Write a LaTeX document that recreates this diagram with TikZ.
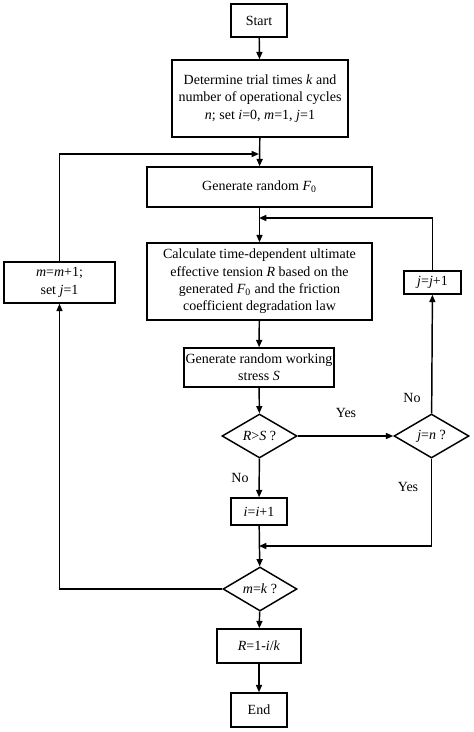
\documentclass[tikz,border=0pt]{standalone}
\usepackage{fontspec}
\setmainfont{Liberation Serif}
\usetikzlibrary{shapes.geometric,arrows.meta}

\begin{document}
\begin{tikzpicture}[x=0.75pt,y=-0.75pt,
  >={Triangle[length=5.5pt,width=4.5pt]},
  every node/.style={font=\fontsize{10.5}{13}\selectfont},
  box/.style={draw,line width=1.1pt,align=center,inner sep=1pt},
  test/.style={draw,diamond,line width=1.1pt,inner sep=0pt,minimum width=56.25pt,minimum height=33pt},
  flow/.style={line width=1.1pt,->},
  ]
\useasboundingbox (0,0) rectangle (474,732);

\node[box,minimum width=42pt,minimum height=24.75pt] (start) at (259,20.5) {Start};
\node[box,minimum width=132pt,minimum height=57.75pt] (init) at (260,98.5)
  {Determine trial times \textit{k} and\\ number of operational cycles\\ \textit{n}; set \textit{i}=0, \textit{m}=1, \textit{j}=1};
\node[box,minimum width=168.75pt,minimum height=30pt] (genF) at (259.5,187) {Generate random \textit{F}\textsubscript{0}};
\node[box,minimum width=168.75pt,minimum height=57.75pt] (calcR) at (259.5,281.5)
  {Calculate time-dependent ultimate\\ effective tension \textit{R} based on the\\ generated \textit{F}\textsubscript{0} and the friction\\ coefficient degradation law};
\node[box,minimum width=96pt,minimum height=29.25pt] (genS) at (259,367.5) {Generate random working\\ stress \textit{S}};
\node[test] (RS) at (259.5,436) {\textit{R}>\textit{S} ?};
\node[test] (jn) at (431.5,436) {\textit{j}=\textit{n} ?};
\node[box,minimum width=42.75pt,minimum height=17.25pt] (jinc) at (432.5,282.5) {\textit{j}=\textit{j}+1};
\node[box,minimum width=83.25pt,minimum height=30.75pt] (minc) at (59.5,282.5) {\textit{m}=\textit{m}+1;\\ set \textit{j}=1};
\node[box,minimum width=42pt,minimum height=20.25pt] (iinc) at (259,511.5) {\textit{i}=\textit{i}+1};
\node[test,minimum width=55.5pt] (mk) at (260,589) {\textit{m}=\textit{k} ?};
\node[box,minimum width=63pt,minimum height=25.5pt] (rel) at (259,646) {\textit{R}=1-\textit{i}/\textit{k}};
\node[box,minimum width=42pt,minimum height=25.5pt] (end) at (259,710) {End};

\coordinate (jtop) at (259,154);
\coordinate (jmid) at (259,218);
\coordinate (jbot) at (259,546);

\draw[flow] (start) -- (init);
\draw[flow] (init) -- (genF);
\draw[flow] (minc.north) |- (jtop);
\draw[flow] (genF) -- (calcR);
\draw[flow] (jinc.north) |- (jmid);
\draw[flow] (calcR) -- (genS);
\draw[flow] (genS) -- (RS);
\draw[flow] (RS) -- (jn);
\draw[flow] (jn) -- (jinc);
\draw[flow] (RS) -- (iinc);
\draw[flow] (jn.south) |- (jbot);
\draw[flow] (iinc) -- (mk);
\draw[flow] (mk.west) -| (minc.south);
\draw[flow] (mk) -- (rel);
\draw[flow] (rel) -- (end);

\node (yes1) at (346,413) {Yes};
\node (no1) at (412,398) {No};
\node (no2) at (240,478) {No};
\node (yes2) at (408,487) {Yes};
\end{tikzpicture}
\end{document}
